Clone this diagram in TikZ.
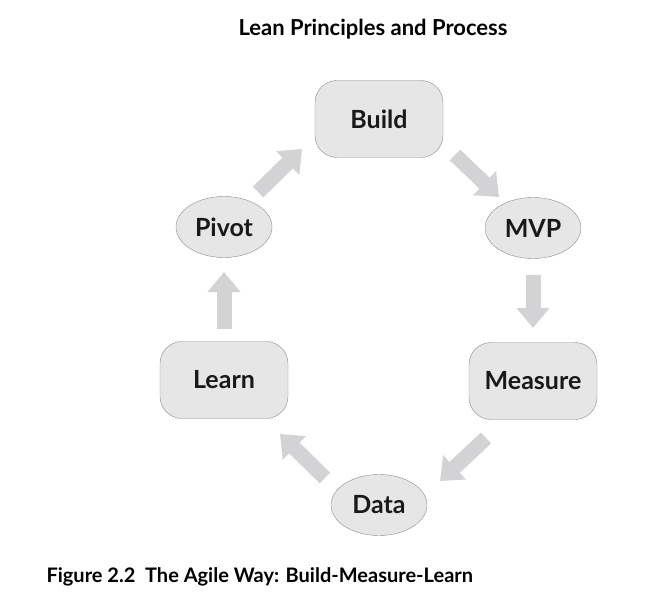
\documentclass[tikz,border=0pt]{standalone}
\usepackage{fontspec}
\setmainfont{Lato}
\usetikzlibrary{shapes.geometric,arrows.meta}
\definecolor{boxfill}{HTML}{E6E6E6}
\definecolor{boxline}{HTML}{8C8C8C}
\definecolor{arr}{HTML}{D3D3D5}
\tikzset{
  rbox/.style={draw=boxline,fill=boxfill,rounded corners=22pt,minimum width=128pt,minimum height=77pt,font=\fontsize{25}{28}\selectfont\bfseries,text=black!90},
  ebox/.style={draw=boxline,fill=boxfill,ellipse,minimum width=96pt,minimum height=61pt,inner sep=0pt,font=\fontsize{25}{28}\selectfont\bfseries,text=black!90},
  bigarrow/.style={draw=arr,line width=15pt,-{Triangle[width=32pt,length=20pt]}}
}
\begin{document}
\begin{tikzpicture}[x=1pt,y=-1pt]
\useasboundingbox (0,0) rectangle (661,604);
\node[font=\fontsize{22}{25}\selectfont\bfseries] (title) at (373,29) {Lean Principles and Process};
\node[rbox] (build) at (379,119) {Build};
\node[ebox] (mvp) at (533,228) {MVP};
\node[rbox] (measure) at (533,381) {Measure};
\node[ebox] (data) at (379,505) {Data};
\node[rbox] (learn) at (224,380) {Learn};
\node[ebox] (pivot) at (224,227) {Pivot};
\coordinate (a1s) at (455,155); \coordinate (a1e) at (499,197);
\coordinate (a2s) at (533,275); \coordinate (a2e) at (533,328);
\coordinate (a3s) at (486,438); \coordinate (a3e) at (440,481);
\coordinate (a4s) at (325,478); \coordinate (a4e) at (280,434);
\coordinate (a5s) at (224,329); \coordinate (a5e) at (224,272);
\coordinate (a6s) at (258,192); \coordinate (a6e) at (302,149);
\draw[bigarrow] (a1s) -- (a1e);
\draw[bigarrow] (a2s) -- (a2e);
\draw[bigarrow] (a3s) -- (a3e);
\draw[bigarrow] (a4s) -- (a4e);
\draw[bigarrow] (a5s) -- (a5e);
\draw[bigarrow] (a6s) -- (a6e);
\node[anchor=west,font=\fontsize{20}{23}\selectfont\bfseries] (cap) at (43,577) {Figure 2.2\ \ The Agile Way: Build-Measure-Learn};
\end{tikzpicture}
\end{document}
